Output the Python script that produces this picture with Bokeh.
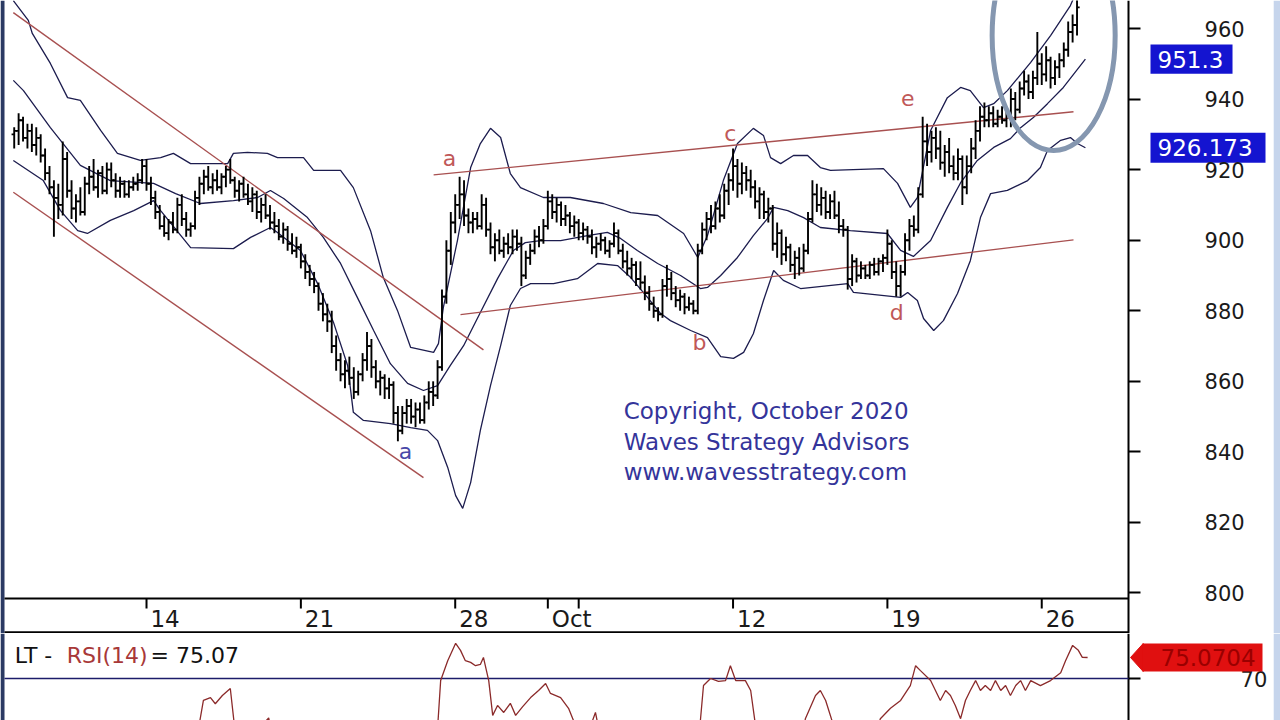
from bokeh.plotting import figure
from bokeh.models import Range1d, FixedTicker, LinearAxis, ColumnDataSource
from bokeh.layouts import column
from bokeh.embed import file_html
from bokeh.resources import INLINE
from bokeh.core.properties import value

# ---------------- data (hourly bars, x = bar index, Sep 14 first bar = 0) ----------------
bar_x = list(range(-30, 212))

opens = [930,931,934,929,931,927,929,924,919,915,
         912,910,923,914,909,911,908,916,918,915,
         919,914,920,917,914,916,913,915,916,917,
         921,916,912,908,904,902,905,903,910,906,
         903,904,912,916,918,915,917,915,918,920,
         917,914,916,913,911,913,908,910,907,905,
         904,901,903,899,897,898,894,891,889,887,
         882,879,877,870,866,862,863,861,857,862,
         866,870,864,860,861,858,859,851,846,851,
         853,850,852,849,854,857,856,864,884,897,
         905,910,913,907,905,906,904,910,903,898,
         900,897,899,898,901,899,890,895,897,901,
         900,904,911,908,910,906,907,904,905,902,
         903,901,898,899,900,897,899,902,897,894,
         892,893,889,888,885,882,880,879,887,889,
         885,883,884,881,882,880,897,903,906,904,
         909,907,914,917,921,916,919,917,915,911,
         913,908,909,899,902,896,898,893,895,892,
         897,906,913,910,912,908,911,907,904,903,
         889,894,890,892,890,893,891,894,895,899,
         891,887,891,900,904,903,913,928,925,929,
         926,922,925,921,919,923,915,921,926,931,
         935,934,936,933,935,934,936,940,937,943,
         945,942,946,950,947,951,946,949,951,954,
         959,961]
highs = [932,936,935,933,933,932,930,926,921,917,
         916,928,925,917,913,915,918,921,923,920,
         921,922,922,919,918,917,917,918,919,923,
         923,918,914,910,907,906,908,912,913,908,
         905,914,918,920,921,919,920,919,921,923,
         918,917,918,916,915,914,912,913,910,908,
         906,905,904,902,901,899,896,893,891,888,
         885,882,880,873,868,866,867,864,863,868,
         874,872,866,863,862,861,860,853,853,855,
         855,854,854,856,860,860,866,886,900,908,
         913,918,917,909,908,908,913,912,905,902,
         903,901,902,903,903,901,897,899,903,904,
         906,914,913,912,911,910,908,907,906,905,
         904,903,901,902,901,900,905,903,899,897,
         895,894,894,890,887,884,881,889,893,891,
         887,886,885,884,883,899,905,908,910,911,
         913,916,919,926,923,922,921,920,917,915,
         914,912,910,905,903,901,899,897,898,899,
         908,917,916,915,914,913,914,911,906,904,
         896,895,894,893,894,895,895,896,903,900,
         894,893,902,906,907,915,935,933,931,932,
         931,927,929,924,926,924,924,929,934,938,
         939,938,938,937,938,937,943,942,945,948,
         947,948,959,953,955,952,951,953,956,962,
         964,970]
lows = [926,927,928,926,925,924,922,917,913,901,
        906,907,912,906,905,907,907,913,914,912,
        913,913,915,912,912,912,912,914,914,916,
        914,910,906,903,901,900,902,902,904,901,
        901,903,910,913,914,913,914,913,915,916,
        912,911,912,910,908,906,905,906,903,902,
        900,899,897,896,895,892,889,887,885,880,
        877,874,868,863,860,858,859,855,856,860,
        863,861,858,856,855,855,848,843,845,848,
        848,847,848,848,852,853,855,863,882,893,
        902,906,904,902,902,903,903,901,896,894,
        896,895,896,896,897,887,889,893,896,898,
        899,903,906,905,904,904,902,901,900,900,
        899,896,895,897,896,895,898,896,892,890,
        889,887,886,883,880,878,877,878,884,883,
        881,880,879,880,879,879,896,900,902,903,
        905,906,910,914,912,913,914,912,909,906,
        906,905,897,895,893,894,891,889,890,891,
        896,905,908,907,906,906,906,902,901,886,
        887,888,889,889,889,890,890,891,893,889,
        884,884,890,897,901,902,912,921,922,923,
        920,918,919,917,917,910,913,919,923,928,
        932,932,932,932,933,932,932,934,936,941,
        940,940,944,944,945,943,944,946,949,952,
        956,958]
closes = [931,934,929,931,927,929,924,919,915,912,
          910,923,914,909,911,908,916,918,915,919,
          914,920,917,914,916,913,915,916,917,921,
          916,912,908,904,902,905,903,910,906,903,
          904,912,916,918,915,917,915,918,920,917,
          914,916,913,911,913,908,910,907,905,904,
          901,903,899,897,898,894,891,889,887,882,
          879,877,870,866,862,863,861,857,862,866,
          870,864,860,861,858,859,851,846,851,853,
          850,852,849,854,857,856,864,884,897,905,
          910,913,907,905,906,904,910,903,898,900,
          897,899,898,901,899,890,895,897,901,900,
          904,911,908,910,906,907,904,905,902,903,
          901,898,899,900,897,899,902,897,894,892,
          893,889,888,885,882,880,879,887,889,885,
          883,884,881,882,880,897,903,906,904,909,
          907,914,917,921,916,919,917,915,911,913,
          908,909,899,902,896,898,893,895,892,897,
          906,913,910,912,908,911,907,904,903,889,
          894,890,892,890,893,891,894,895,899,891,
          887,891,900,904,903,913,928,925,929,926,
          922,925,921,919,923,915,921,926,931,935,
          934,936,933,935,934,936,940,937,943,945,
          942,946,950,947,951,946,949,951,954,959,
          961,966]

# Bollinger bands
ub_x = [-30.2,-26.8,-25.9,-21.8,-17.9,-15.0,-10.4,-6.6,-1.4,3.2,6.1,10.0,18.4,19.7,22.9,27.4,29.7,35.6,37.9,44.0,
        46.9,50.8,53.7,56.9,59.9,65.1,66.2,67.3,70.5,73.5,75.7,78.0,80.3,82.5,84.8,90.0,96.1,103.6,109.8,115.9,
        121.8,125.0,127.2,130.8,134.0,137.6,139.9,141.5,143.8,146.7,149.9,152.8,155.1,167.1,170.3,173.2,174.8,177.8,181.6,184.6,
        186.8,189.8,192.1,195.2,200.5,205.0,209.5,212.9]
ub_y = [967.9,962.3,958.6,950.1,940.4,939.6,931.1,924.6,922.6,923.4,924.6,921.7,921.7,924.6,924.9,924.6,923.4,923.4,919.8,919.8,
        914.9,902.7,889.4,880.1,869.6,868.2,870.7,880.9,899.9,920.6,927.4,931.7,929.1,918.9,914.9,912.1,912.1,910.4,907.8,907.0,
        901.9,895.1,901.3,916.9,927.4,931.7,929.7,923.4,921.7,924.0,924.0,920.6,919.8,920.3,916.1,909.3,912.1,931.1,940.4,943.3,
        942.4,937.6,938.7,942.4,950.4,958.0,966.5,976.4]
mb_x = [-30.2,-27.9,-21.8,-15.0,-8.2,1.6,6.6,12.2,19.7,25.2,28.1,31.1,36.5,40.1,44.0,47.8,51.5,55.3,59.2,62.8,
        66.0,68.9,71.9,75.7,79.6,83.2,85.9,89.3,93.9,100.0,104.5,107.5,111.3,115.9,121.1,125.6,127.2,130.2,134.0,137.6,
        140.8,142.2,145.4,149.0,152.8,159.6,168.0,171.0,173.9,177.8,181.6,184.6,188.4,192.1,195.9,198.2,201.1,204.3,207.9,212.9]
mb_y = [945.3,942.4,931.9,921.2,916.9,916.1,913.2,910.4,911.2,912.1,914.1,911.8,906.4,900.8,893.4,883.8,874.4,865.0,859.4,857.4,
        858.8,864.5,870.1,879.5,889.1,897.1,899.3,899.9,899.9,901.3,902.2,900.5,897.1,893.4,890.0,886.3,886.6,890.0,895.1,901.3,
        906.1,909.3,908.4,906.4,903.6,902.7,901.9,897.1,895.4,899.9,909.3,916.3,922.6,926.3,928.8,931.9,934.8,938.7,943.3,951.3]
lb_x = [-30.2,-23.4,-19.5,-15.6,-13.4,-8.2,-2.9,1.6,3.2,10.0,19.7,23.6,28.1,29.7,34.9,38.8,42.4,45.6,46.9,49.2,
        55.3,59.9,63.7,66.0,68.3,70.1,71.7,73.5,75.7,78.0,80.3,82.5,84.8,87.1,92.3,97.7,102.3,106.8,109.8,113.6,
        116.6,118.8,123.4,127.2,130.2,133.1,135.4,137.6,139.9,142.2,144.4,148.3,159.0,160.3,171.0,172.6,174.8,176.2,178.5,180.7,
        183.9,186.8,189.1,191.4,195.2,199.8,202.7,204.3,207.3,209.5,211.1,212.9]
lb_y = [922.6,916.9,908.4,902.7,901.9,905.6,908.4,911.2,908.4,897.9,897.6,900.8,903.6,902.2,897.1,887.7,876.7,864.5,851.2,848.9,
        848.0,846.9,846.1,843.2,835.6,827.6,824.0,831.3,846.1,858.8,870.1,881.5,886.3,887.7,887.7,889.1,893.4,892.8,889.4,883.8,
        879.2,877.2,874.4,872.4,867.0,866.5,868.2,873.5,882.9,891.4,888.6,886.3,887.7,885.2,883.8,885.2,882.9,877.8,874.4,877.2,
        884.9,894.2,906.4,913.2,914.1,916.9,920.6,925.4,928.3,929.1,927.4,926.2]

# RSI(14)
rsi_x = [-30.2,-12.7,-1.4,10.0,11.8,12.9,14.5,15.6,17.2,19.0,20.0,22.4,27.7,29.3,34.9,46.3,57.6,64.4,66.0,66.7,
         68.3,70.1,71.2,72.3,73.5,74.6,75.7,76.4,77.6,78.5,79.6,81.0,82.5,83.7,85.3,87.1,88.9,90.5,91.6,93.9,
         95.7,97.3,99.5,101.8,102.9,112.0,116.6,123.4,125.6,126.3,127.9,129.7,131.3,132.4,133.6,135.8,137.0,138.1,141.5,148.3,
         149.4,151.7,152.8,154.0,155.8,159.6,164.2,166.4,168.7,171.0,173.2,174.4,175.5,177.8,178.9,180.0,181.2,182.3,183.4,184.6,
         185.7,186.8,188.0,189.1,190.2,191.4,192.5,193.7,194.8,195.9,197.1,198.2,199.3,200.5,202.7,205.0,207.3,208.4,210.0,211.3,
         212.2,213.4]
rsi_v = [52,55,56,52,58,64.7,65.4,63.9,65.9,67.6,58,54,60.5,52,40,35,38,45,58,69.5,
         74.3,78.5,76.8,74.3,73.9,73.1,73.4,75.1,69.5,61.1,63.5,61.8,64.0,61.1,63.2,65.4,67.1,68.8,66.4,65.4,
         62.8,58.6,55,61.8,56,45,35,50,59.9,68.3,70.0,69.3,69.5,73.1,69.5,69.5,67.1,58.6,50,52,
         60.3,65.9,67.1,64.7,58.6,48,52,60.3,62.8,64.7,68.3,73.1,71.9,69.5,67.1,64.7,67.1,65.9,63.5,60.3,
         64.7,67.1,69.5,67.1,68.3,67.1,69.5,67.1,68.3,65.9,68.3,69.5,67.1,69.5,68.3,69.5,71.4,74.3,78.0,76.8,
         75.1,75.07]

price_ticks = [800, 820, 840, 860, 880, 900, 920, 940, 960]
date_ticks = [0, 35, 70, 91, 98, 133, 168, 203]
date_labels = ["14", "21", "28", "Oct", "", "12", "19", "26"]
wave_labels = ["a", "c", "e", "b", "d"]
wave_x = [68.7, 132.4, 172.6, 125.4, 170.1]
wave_y = [923.2, 930.2, 940.4, 871.0, 879.5]
wm_lines = ["Copyright, October 2020", "Waves Strategy Advisors", "www.wavesstrategy.com"]
mid_last, low_last, rsi_last = 951.3, 926.173, 75.0704

FONT = "DejaVu Sans"
W = 1280
XL, XR_ = -33.11, 257.14       # full canvas width in bar units
AX_X = 222.68                  # where the value axis sits
LEFT_EDGE = -32.2
XR = Range1d(XL, XR_)


def style_axis(ax, ticks, standoff):
    ax.ticker = FixedTicker(ticks=ticks)
    ax.major_tick_out = 12
    ax.major_tick_in = 0
    ax.minor_tick_out = 0
    ax.minor_tick_in = 0
    ax.axis_line_width = 2
    ax.axis_line_color = "black"
    ax.major_tick_line_width = 2
    ax.major_tick_line_color = "black"
    ax.major_label_standoff = standoff
    ax.major_label_text_font = FONT
    ax.major_label_text_font_size = "21px"
    ax.major_label_text_color = "#1a1a1a"


def make_fig(h, yr):
    f = figure(width=W, height=h, x_range=XR, y_range=yr,
               output_backend="svg", toolbar_location=None, x_axis_location=None, y_axis_location=None,
               min_border_left=0, min_border_right=0, min_border_top=0, min_border_bottom=0,
               outline_line_color=None, background_fill_color="white", border_fill_color="white")
    f.xgrid.visible = False
    f.ygrid.visible = False
    return f


# ---------------- price panel ----------------
p = make_fig(633, Range1d(788.52, 967.94))
pax = LinearAxis(fixed_location=AX_X)
style_axis(pax, price_ticks, 64)
p.add_layout(pax, "right")

# frame borders of the original screenshot
p.quad(left=[XL], right=[LEFT_EDGE], bottom=[788.52], top=[967.94], fill_color="#2b3a63", line_color=None)
p.quad(left=[255.6], right=[XR_], bottom=[788.52], top=[967.94], fill_color="#c6d5ec", line_color=None)

band_col = "#1c1c4e"
p.line(ub_x, ub_y, line_color=band_col, line_width=1.3)
p.line(mb_x, mb_y, line_color=band_col, line_width=1.3)
p.line(lb_x, lb_y, line_color=band_col, line_width=1.3)

tl_col = "#a85050"
p.line([-30.2, 76.4], [964.5, 868.9], line_color=tl_col, line_width=1.4)
p.line([-30.2, 62.8], [913.6, 832.7], line_color=tl_col, line_width=1.4)
p.line([65.1, 210.2], [918.5, 936.4], line_color=tl_col, line_width=1.4)
p.line([71.2, 210.2], [878.9, 900.1], line_color=tl_col, line_width=1.4)

src = ColumnDataSource(dict(x=bar_x, o=opens, h=highs, l=lows, c=closes,
                            xl=[v - 0.6 for v in bar_x], xr=[v + 0.6 for v in bar_x]))
p.segment(x0="x", y0="l", x1="x", y1="h", source=src, line_color="black", line_width=1.9)
p.segment(x0="xl", y0="o", x1="x", y1="o", source=src, line_color="black", line_width=1.9)
p.segment(x0="x", y0="c", x1="xr", y1="c", source=src, line_color="black", line_width=1.9)

p.ellipse(x=[205.7], y=[958.0], width=[27.9], height=[65.2], fill_color=None,
          line_color="#8597b0", line_width=5)

p.text(x=wave_x, y=wave_y, text=wave_labels, text_font=value(FONT), text_font_size="22px",
       text_color="#c05858", text_align="center", text_baseline="middle")
p.text(x=[58.7], y=[840.1], text=["a"], text_font=value(FONT), text_font_size="22px",
       text_color="#4848a8", text_align="center", text_baseline="middle")

p.text(x=[108.2, 108.2, 108.2], y=[851.7, 842.9, 834.2], text=wm_lines, text_font=value(FONT),
       text_font_size="23px", text_color="#34349a", text_align="left", text_baseline="middle")

# date band
p.segment(x0=[LEFT_EDGE, LEFT_EDGE], y0=[798.44, 788.85], x1=[AX_X, AX_X], y1=[798.44, 788.85],
          line_color="black", line_width=2)
p.segment(x0=date_ticks, y0=[798.44] * len(date_ticks), x1=date_ticks, y1=[795.6] * len(date_ticks),
          line_color="black", line_width=2)
p.text(x=[t + 0.9 for t in date_ticks], y=[792.77] * len(date_ticks), text=date_labels,
       text_font=value(FONT), text_font_size="23px", text_color="#1a1a1a",
       text_align="left", text_baseline="middle")

# last-value boxes
p.quad(left=[227.66], right=[246.26], bottom=[mid_last - 4.15], top=[mid_last + 4.15],
       fill_color="#1414d0", line_color=None)
p.quad(left=[227.66], right=[253.74], bottom=[low_last - 4.25], top=[low_last + 4.25],
       fill_color="#1414d0", line_color=None)
p.text(x=[229.25, 229.25], y=[mid_last, low_last], text=[f"{mid_last}", f"{low_last}"],
       text_font=value(FONT), text_font_size="23px", text_color="white",
       text_align="left", text_baseline="middle")

# ---------------- RSI panel ----------------
r = make_fig(87, Range1d(59.86, 80.87))
rax = LinearAxis(fixed_location=AX_X)
style_axis(rax, [70], 100)
rax.level = "underlay"
r.add_layout(rax, "right")

r.quad(left=[XL], right=[LEFT_EDGE], bottom=[59.86], top=[80.87], fill_color="#2b3a63", line_color=None)
r.quad(left=[255.6], right=[XR_], bottom=[59.86], top=[80.87], fill_color="#c6d5ec", line_color=None)

r.segment(x0=[LEFT_EDGE], y0=[70], x1=[AX_X], y1=[70], line_color="#1c1c6a", line_width=1.6)
r.line(rsi_x, rsi_v, line_color="#8b2a2a", line_width=1.3)

r.text(x=[-29.9], y=[75.56], text=["LT -"], text_font=value(FONT), text_font_size="22px",
       text_color="#111111", text_align="left", text_baseline="middle")
r.text(x=[-18.1], y=[75.56], text=["RSI(14)"], text_font=value(FONT), text_font_size="22px",
       text_color="#a83838", text_align="left", text_baseline="middle")
r.text(x=[0.9], y=[75.56], text=["= 75.07"], text_font=value(FONT), text_font_size="22px",
       text_color="#111111", text_align="left", text_baseline="middle")

r.patch(x=[223.13, 226.0, 226.0], y=[rsi_last, rsi_last + 3.38, rsi_last - 3.38],
        fill_color="#e01010", line_color="#e01010")
r.quad(left=[225.85], right=[253.06], bottom=[rsi_last - 3.38], top=[rsi_last + 3.38],
       fill_color="#e01010", line_color=None)
r.text(x=[229.93], y=[rsi_last], text=[f"{rsi_last}"], text_font=value(FONT), text_font_size="23px",
       text_color="#9a0000", text_align="left", text_baseline="middle")

layout = column(p, r)
open("out.html", "w").write(file_html(layout, INLINE))
